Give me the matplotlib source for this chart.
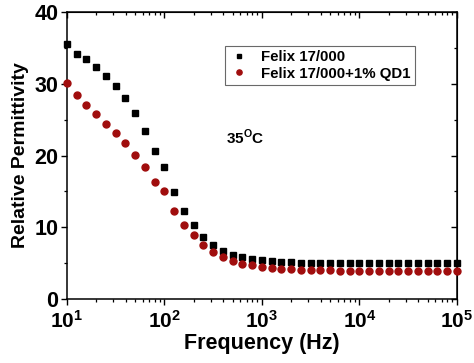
import matplotlib
matplotlib.use("Agg")
import matplotlib.pyplot as plt
from matplotlib.ticker import FixedLocator, NullFormatter, MultipleLocator

# Frequencies (Hz), 10 points per decade
freq = [10, 12.6, 15.8, 20.0, 25.1, 31.6, 39.8, 50.1, 63.1, 79.4,
        100, 126, 158, 200, 251, 316, 398, 501, 631, 794,
        1000, 1259, 1585, 1995, 2512, 3162, 3981, 5012, 6310, 7943,
        10000, 12589, 15849, 19953, 25119, 31623, 39811, 50119, 63096, 79433, 100000]

felix = [35.5, 34.2, 33.4, 32.3, 31.1, 29.7, 28.0, 25.9, 23.4, 20.6,
         18.4, 14.9, 12.3, 10.3, 8.7, 7.5, 6.7, 6.1, 5.8, 5.55,
         5.4, 5.3, 5.2, 5.15, 5.1, 5.08, 5.05, 5.03, 5.0, 5.0,
         5.0, 5.0, 4.98, 4.98, 4.97, 4.97, 4.97, 4.97, 4.97, 4.97, 4.97]

felix_qd = [30.1, 28.4, 27.1, 25.8, 24.4, 23.1, 21.7, 20.1, 18.4, 16.3,
            15.1, 12.3, 10.3, 8.9, 7.5, 6.5, 5.8, 5.3, 4.9, 4.7,
            4.5, 4.3, 4.2, 4.14, 4.1, 4.05, 4.0, 4.0, 3.95, 3.95,
            3.9, 3.9, 3.9, 3.88, 3.88, 3.85, 3.85, 3.85, 3.85, 3.85, 3.85]

series_names = ['Felix 17/000', 'Felix 17/000+1% QD1']
xtick_vals = [1e1, 1e2, 1e3, 1e4, 1e5]
xtick_labels = [r'$\mathbf{10^{1}}$', r'$\mathbf{10^{2}}$', r'$\mathbf{10^{3}}$',
                r'$\mathbf{10^{4}}$', r'$\mathbf{10^{5}}$']
ytick_vals = [0, 10, 20, 30, 40]

plt.rcParams['font.family'] = 'Liberation Sans'
plt.rcParams['font.weight'] = 'bold'
plt.rcParams['mathtext.fontset'] = 'custom'
plt.rcParams['mathtext.rm'] = 'Liberation Sans:bold'
plt.rcParams['mathtext.bf'] = 'Liberation Sans:bold'

fig = plt.figure(figsize=(4.74, 3.63), dpi=100)
ax = fig.add_axes([0.141, 0.176, 0.823, 0.791])

ax.plot(freq, felix, linestyle='none', marker='s', markersize=4.6,
        color='black', label=series_names[0], clip_on=False, zorder=3)
ax.plot(freq, felix_qd, linestyle='none', marker='o', markersize=5.0,
        color='#a00d0d', label=series_names[1], clip_on=False, zorder=3)

ax.set_xscale('log')
ax.set_xlim(10, 1e5)
ax.set_ylim(0, 40)

ax.xaxis.set_major_locator(FixedLocator(xtick_vals))
ax.set_xticklabels(xtick_labels)
ax.yaxis.set_major_locator(FixedLocator(ytick_vals))
ax.yaxis.set_minor_locator(MultipleLocator(5))
ax.xaxis.set_minor_formatter(NullFormatter())

for s in ax.spines.values():
    s.set_linewidth(1.1)

ax.tick_params(axis='both', which='major', direction='out', length=4, width=1.0,
               labelsize=15.5)
ax.tick_params(axis='both', which='minor', direction='out', length=2.5, width=0.9)
ax.tick_params(axis='x', which='major', labelsize=15, pad=3.5)
ax.tick_params(axis='y', which='major', pad=2)

# inward ticks on top and right
top = ax.secondary_xaxis('top')
top.set_xticks(xtick_vals)
top.xaxis.set_minor_locator(ax.xaxis.get_minor_locator())
top.tick_params(which='major', direction='in', length=4, width=1.0, labeltop=False)
top.tick_params(which='minor', direction='in', length=2.5, width=0.9)
top.xaxis.set_minor_formatter(NullFormatter())
right = ax.secondary_yaxis('right')
right.set_yticks(ytick_vals)
right.yaxis.set_minor_locator(MultipleLocator(5))
right.tick_params(which='major', direction='in', length=4, width=1.0, labelright=False)
right.tick_params(which='minor', direction='in', length=2.5, width=0.9)

ax.set_xlabel('Frequency (Hz)', fontsize=15.5, fontweight='bold', labelpad=1)
ax.set_ylabel('Relative Permittivity', fontsize=14, fontweight='bold', labelpad=4)

ax.text(0.408, 0.54, r'35$^{\mathbf{O}}$C', transform=ax.transAxes,
        fontsize=11, fontweight='bold')

leg = ax.legend(loc='upper left', bbox_to_anchor=(0.405, 0.882), borderaxespad=0,
                frameon=True, fancybox=False, edgecolor='#444444',
                handlelength=1.3, handletextpad=0.8, borderpad=0.3,
                labelspacing=0.15, markerscale=0.75,
                prop={'weight': 'bold', 'size': 10.8})
leg.get_frame().set_linewidth(0.8)

fig.savefig('out.png', dpi=100)
